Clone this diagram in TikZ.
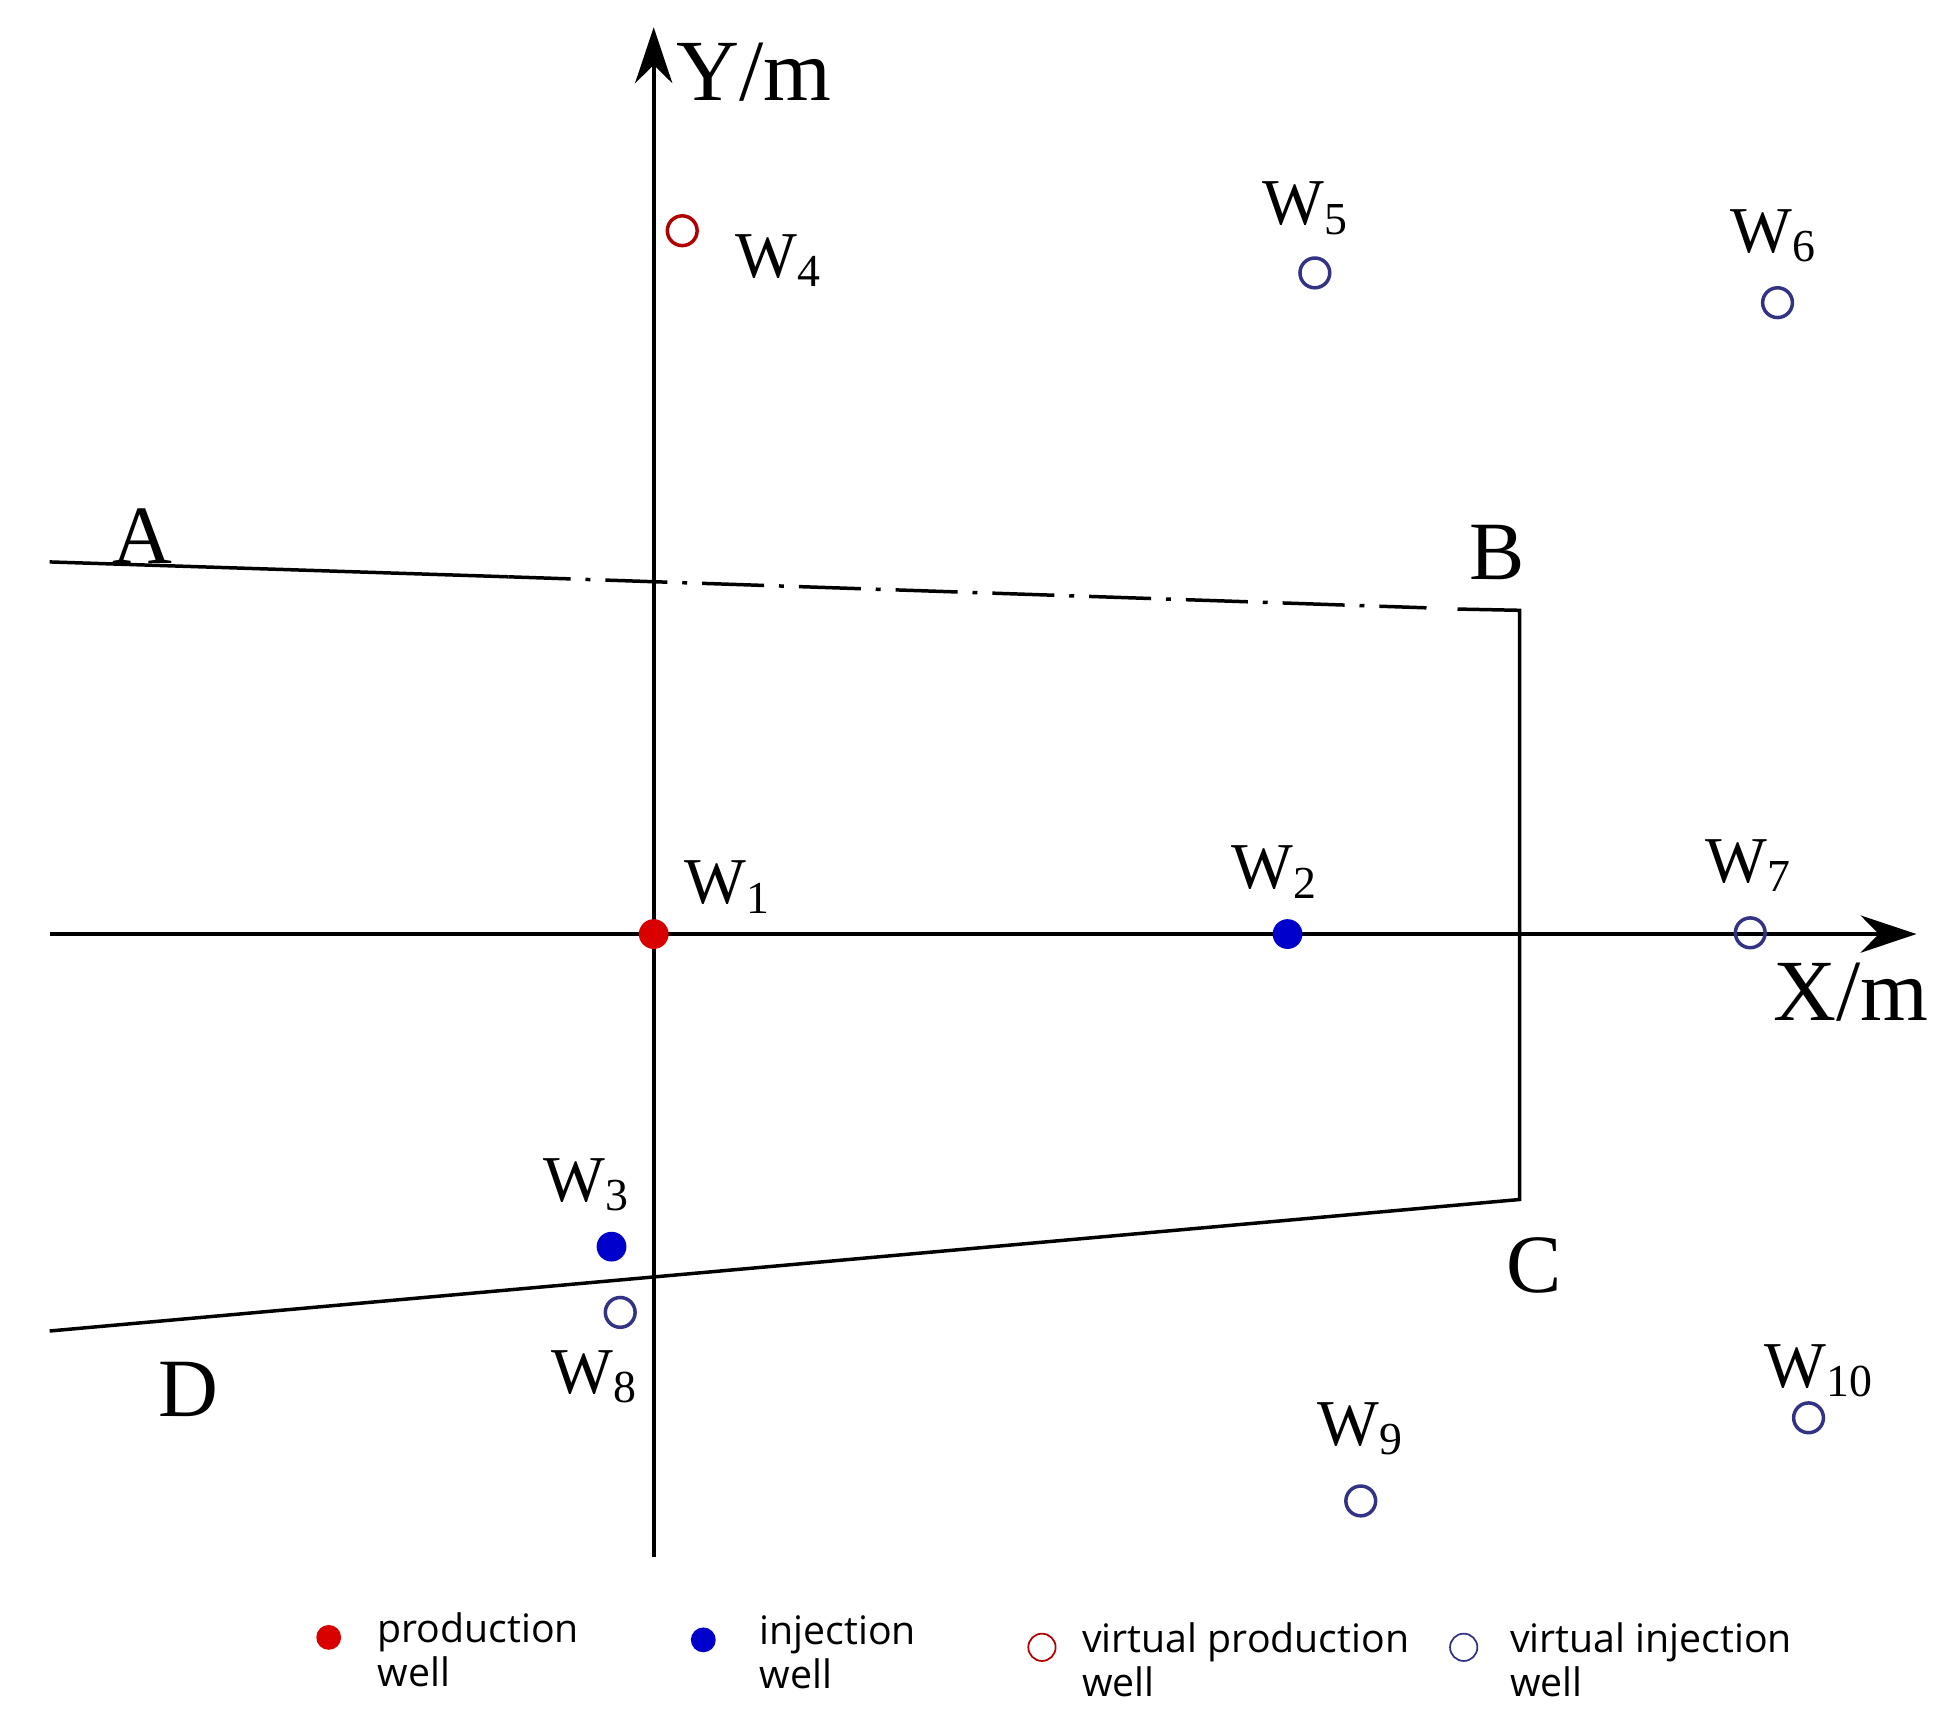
\documentclass[tikz,border=0pt]{standalone}
\usepackage{fontspec}
\setmainfont{Liberation Serif}
\setsansfont{Open Sans}
\usetikzlibrary{arrows.meta}
\begin{document}
\begin{tikzpicture}[x=0.01cm,y=-0.01cm,
  lbl/.style={font=\fontsize{15}{15}\selectfont},
  big/.style={font=\fontsize{19}{19}\selectfont},
  leg/.style={font=\sffamily\fontsize{9}{8}\selectfont,align=left,anchor=west},
  prod/.style={circle,fill=red!85!black,inner sep=0,minimum size=0.24cm},
  inj/.style={circle,fill=blue!80!black,inner sep=0,minimum size=0.24cm},
  vprod/.style={circle,draw=red!70!black,inner sep=0,minimum size=0.24cm,thick},
  vinj/.style={circle,draw=blue!40!black!80,inner sep=0,minimum size=0.24cm,thick},
  ax/.style={line width=0.9pt,-{Stealth[length=0.45cm,width=0.3cm]}}]
\useasboundingbox (0,0) rectangle (1568,1381);
% axes
\coordinate (ys) at (527,1255); \coordinate (ye) at (527,22);
\coordinate (xs) at (40,753); \coordinate (xe) at (1545,753);
\draw[ax] (ys) -- (ye);
\draw[ax] (xs) -- (xe);
\node[lbl,font=\fontsize{20}{20}\selectfont] (ylab) at (608,58) {Y/m};
\node[lbl,font=\fontsize{20}{20}\selectfont] (xlab) at (1492,800) {X/m};
% boundary
\coordinate (A0) at (40,453); \coordinate (A1) at (410,465);
\coordinate (A2) at (1150,490); \coordinate (B0) at (1175,491);
\coordinate (B) at (1225,492); \coordinate (C) at (1225,967); \coordinate (D) at (40,1073);
\draw[line width=0.8pt] (A0) -- (A1);
\draw[line width=0.8pt,dash pattern=on 0.5cm off 0.12cm on 0.04cm off 0.12cm] (A1) -- (A2);
\draw[line width=0.8pt] (B0) -- (B) -- (C) -- (D);
\node[big] (la) at (115,432) {A};
\node[big] (lb) at (1207,445) {B};
\node[big] (lc) at (1237,1020) {C};
\node[big] (ld) at (152,1120) {D};
% wells
\node[prod] (w1) at (527,753) {};
\node[inj] (w2) at (1038,753) {};
\node[inj] (w3) at (493,1005) {};
\node[vprod] (w4) at (550,186) {};
\node[vinj] (w5) at (1060,220) {};
\node[vinj] (w6) at (1433,244) {};
\node[vinj] (w7) at (1411,752) {};
\node[vinj] (w8) at (500,1058) {};
\node[vinj] (w9) at (1097,1210) {};
\node[vinj] (w10) at (1458,1143) {};
\node[lbl] at (587,715) {W\textsubscript{1}};
\node[lbl] at (1028,703) {W\textsubscript{2}};
\node[lbl] at (473,955) {W\textsubscript{3}};
\node[lbl] at (628,210) {W\textsubscript{4}};
\node[lbl] at (1053,168) {W\textsubscript{5}};
\node[lbl] at (1430,190) {W\textsubscript{6}};
\node[lbl] at (1410,698) {W\textsubscript{7}};
\node[lbl] at (480,1110) {W\textsubscript{8}};
\node[lbl] at (1097,1152) {W\textsubscript{9}};
\node[lbl] at (1467,1105) {W\textsubscript{10}};
% legend
\node[prod,minimum size=0.2cm] (l1) at (265,1320) {};
\node[leg] at (292,1330) {production\\well};
\node[inj,minimum size=0.2cm] (l2) at (567,1322) {};
\node[leg] at (600,1332) {injection\\well};
\node[vprod,minimum size=0.22cm,thin] (l3) at (840,1328) {};
\node[leg] at (860,1338) {virtual production\\well};
\node[vinj,minimum size=0.22cm,thin] (l4) at (1180,1328) {};
\node[leg] at (1205,1338) {virtual injection\\well};
\end{tikzpicture}
\end{document}
